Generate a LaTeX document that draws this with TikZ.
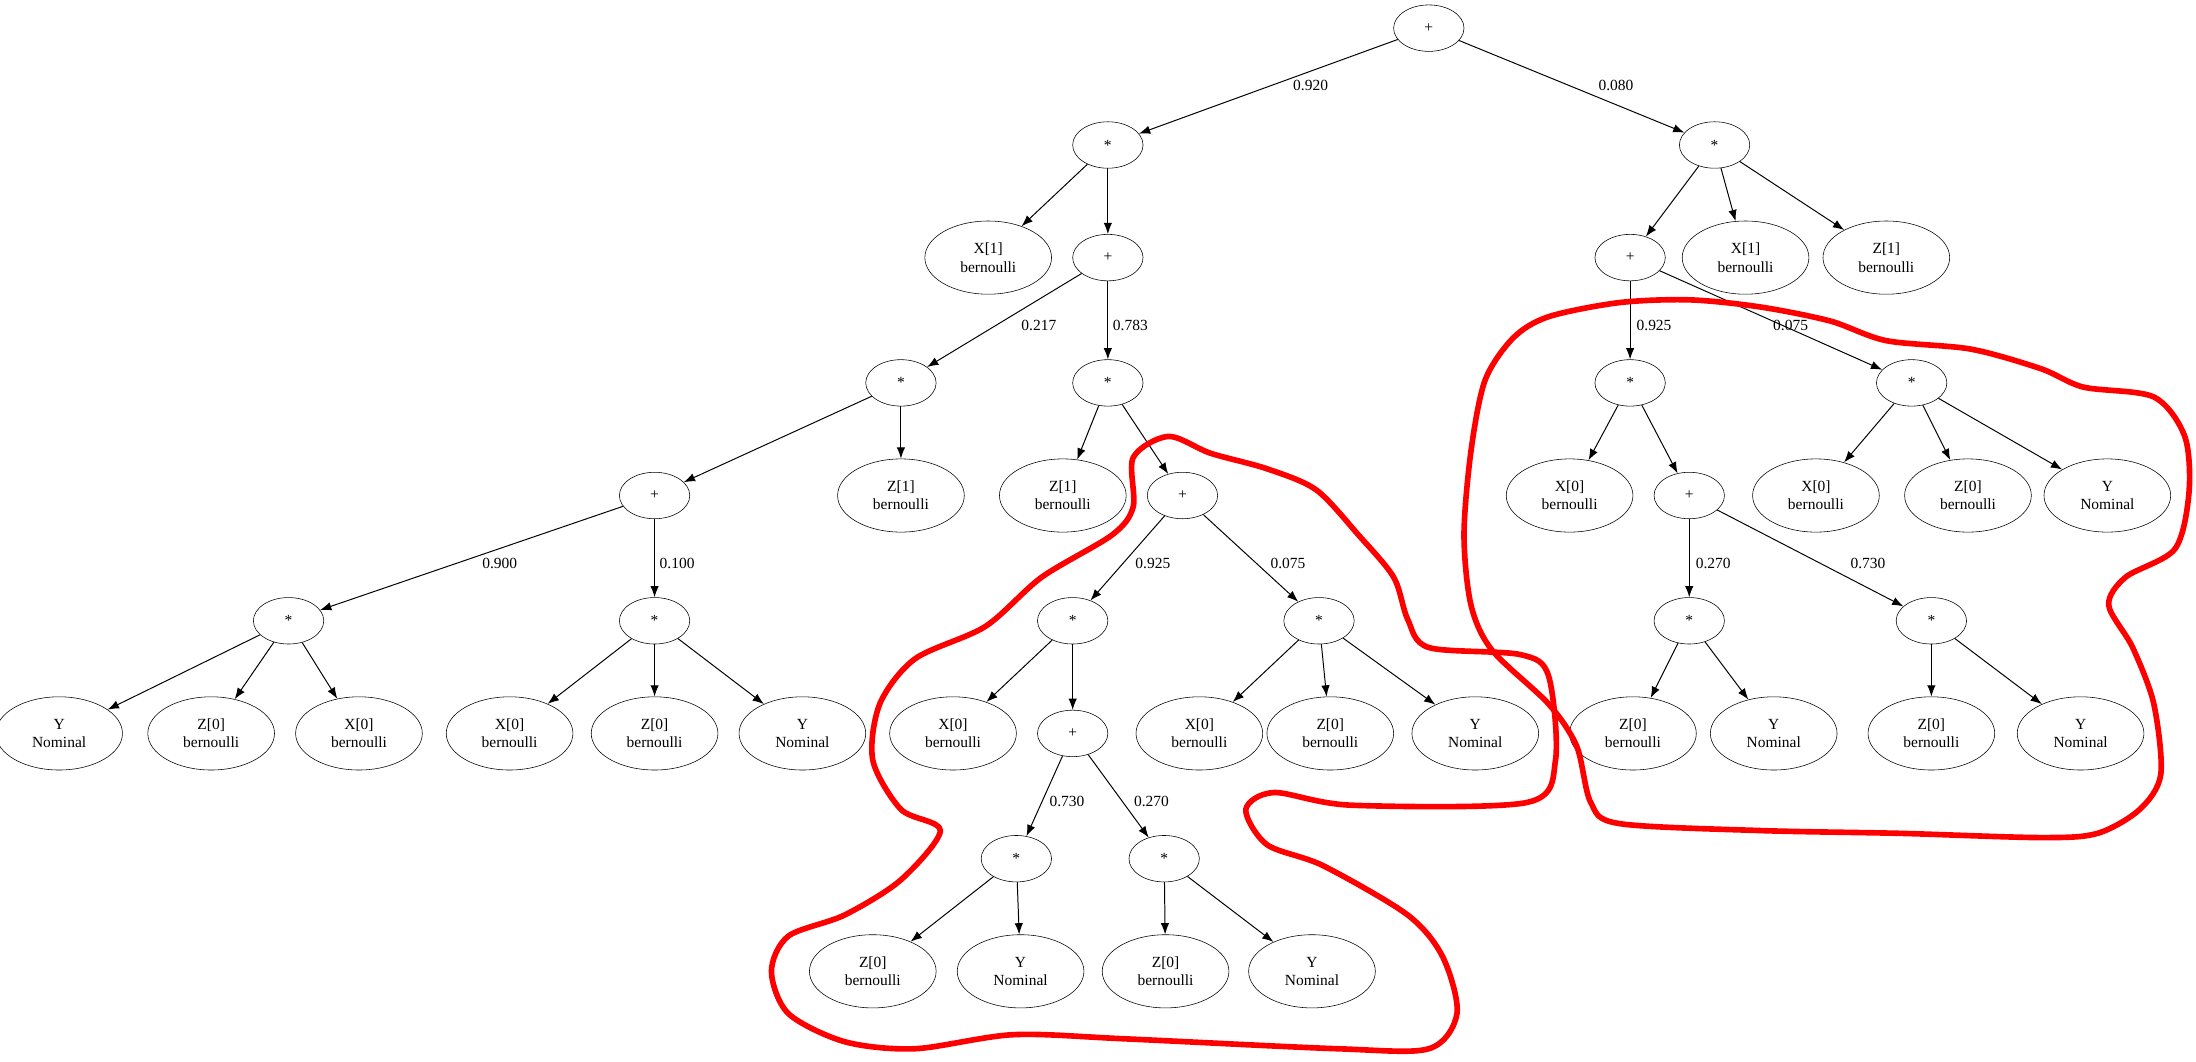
\documentclass[tikz,border=0pt]{standalone}
\usepackage{fontspec}
\setmainfont{Liberation Serif}
\usetikzlibrary{shapes.geometric,arrows.meta}
\begin{document}
\begin{tikzpicture}[x=1pt,y=-1pt,
 op/.style={ellipse,draw,minimum width=50pt,minimum height=33pt,inner sep=0pt,font=\fontsize{11}{12}\selectfont},
 leaf/.style={ellipse,draw,minimum width=90pt,minimum height=52pt,inner sep=0pt,align=center,font=\fontsize{11}{13}\selectfont},
 ed/.style={-{Latex[length=8pt,width=6pt]},line width=0.7pt},
 lb/.style={font=\fontsize{11}{12}\selectfont},
 loop/.style={red,line width=4pt,line join=round}]
\useasboundingbox (0,0) rectangle (1560,754);
\node[op] (root) at (1015,20) {+};
\node[op] (A) at (787,103) {*};
\node[op] (B) at (1218,103) {*};
\node[leaf] (A1) at (702,183) {X[1]\\bernoulli};
\node[op] (C) at (787,183) {+};
\node[op] (D) at (640,272) {*};
\node[op] (E) at (787,272) {*};
\node[op] (F) at (465,352) {+};
\node[leaf] (D2) at (640,352) {Z[1]\\bernoulli};
\node[leaf] (E1) at (755,352) {Z[1]\\bernoulli};
\node[op] (G) at (840,352) {+};
\node[op] (H) at (205,441) {*};
\node[op] (I) at (465,441) {*};
\node[leaf] (H1) at (42,521) {Y\\Nominal};
\node[leaf] (H2) at (150,521) {Z[0]\\bernoulli};
\node[leaf] (H3) at (255,521) {X[0]\\bernoulli};
\node[leaf] (I1) at (362,521) {X[0]\\bernoulli};
\node[leaf] (I2) at (465,521) {Z[0]\\bernoulli};
\node[leaf] (I3) at (570,521) {Y\\Nominal};
\node[op] (J) at (762,441) {*};
\node[op] (K) at (937,441) {*};
\node[leaf] (J1) at (677,521) {X[0]\\bernoulli};
\node[op] (L) at (762,521) {+};
\node[leaf] (K1) at (852,521) {X[0]\\bernoulli};
\node[leaf] (K2) at (945,521) {Z[0]\\bernoulli};
\node[leaf] (K3) at (1048,521) {Y\\Nominal};
\node[op] (M) at (722,610) {*};
\node[op] (N) at (827,610) {*};
\node[leaf] (M1) at (620,690) {Z[0]\\bernoulli};
\node[leaf] (M2) at (725,690) {Y\\Nominal};
\node[leaf] (N1) at (828,690) {Z[0]\\bernoulli};
\node[leaf] (N2) at (932,690) {Y\\Nominal};
\node[op] (O) at (1158,183) {+};
\node[leaf] (B2) at (1240,183) {X[1]\\bernoulli};
\node[leaf] (B3) at (1340,183) {Z[1]\\bernoulli};
\node[op] (P) at (1158,272) {*};
\node[op] (Q) at (1358,272) {*};
\node[leaf] (P1) at (1115,352) {X[0]\\bernoulli};
\node[op] (R) at (1200,352) {+};
\node[leaf] (Q1) at (1290,352) {X[0]\\bernoulli};
\node[leaf] (Q2) at (1398,352) {Z[0]\\bernoulli};
\node[leaf] (Q3) at (1497,352) {Y\\Nominal};
\node[op] (S) at (1200,441) {*};
\node[op] (T) at (1372,441) {*};
\node[leaf] (S1) at (1160,521) {Z[0]\\bernoulli};
\node[leaf] (S2) at (1260,521) {Y\\Nominal};
\node[leaf] (T1) at (1372,521) {Z[0]\\bernoulli};
\node[leaf] (T2) at (1478,521) {Y\\Nominal};
\foreach \a/\b in {root/A,root/B,A/A1,A/C,C/D,C/E,D/F,D/D2,E/E1,E/G,F/H,F/I,H/H1,H/H2,H/H3,I/I1,I/I2,I/I3,G/J,G/K,J/J1,J/L,K/K1,K/K2,K/K3,L/M,L/N,M/M1,M/M2,N/N1,N/N2,B/O,B/B2,B/B3,O/P,O/Q,P/P1,P/R,Q/Q1,Q/Q2,Q/Q3,R/S,R/T,S/S1,S/S2,T/T1,T/T2}
  \draw[ed] (\a) -- (\b);
\node[lb] at (931,61) {0.920};
\node[lb] at (1148,61) {0.080};
\node[lb] at (738,231) {0.217};
\node[lb] at (803,231) {0.783};
\node[lb] at (355,400) {0.900};
\node[lb] at (481,400) {0.100};
\node[lb] at (819,400) {0.925};
\node[lb] at (915,400) {0.075};
\node[lb] at (758,569) {0.730};
\node[lb] at (818,569) {0.270};
\node[lb] at (1175,231) {0.925};
\node[lb] at (1272,231) {0.075};
\node[lb] at (1217,400) {0.270};
\node[lb] at (1327,400) {0.730};
\draw[loop] plot[smooth cycle,tension=0.5] coordinates {(830,310) (860,322) (900,333) (935,348) (965,380) (990,410) (1000,440) (1015,460) (1080,465) (1100,480) (1105,540) (1085,570) (960,572) (905,563) (885,575) (900,600) (940,615) (1000,650) (1025,680) (1035,720) (1015,745) (950,745) (800,738) (720,735) (650,745) (600,740) (560,720) (548,690) (560,665) (600,650) (640,625) (668,590) (640,575) (620,540) (625,500) (650,468) (700,445) (740,410) (790,380) (805,360) (805,325)};
\draw[loop] plot[smooth cycle,tension=0.5] coordinates {(1100,225) (1150,215) (1200,213) (1250,218) (1300,228) (1340,242) (1400,248) (1450,262) (1480,275) (1530,282) (1552,310) (1555,350) (1545,390) (1510,410) (1498,430) (1515,460) (1530,500) (1535,550) (1520,575) (1490,592) (1450,595) (1350,592) (1250,590) (1150,585) (1130,570) (1120,530) (1100,500) (1060,462) (1045,430) (1040,380) (1045,320) (1055,270) (1075,240)};
\end{tikzpicture}
\end{document}
